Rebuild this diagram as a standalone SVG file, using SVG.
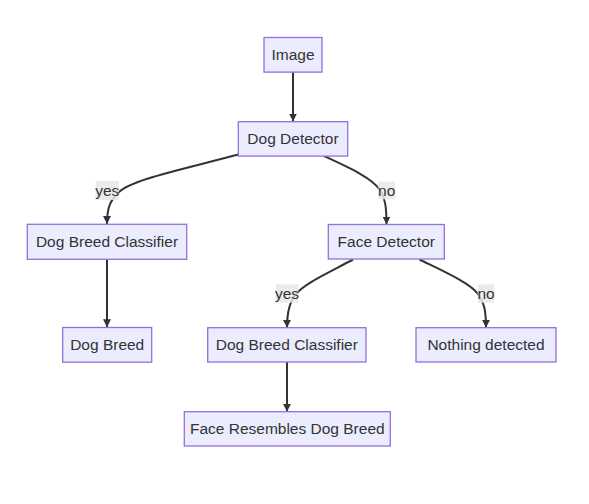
<svg xmlns="http://www.w3.org/2000/svg" width="589" height="504" viewBox="0 0 589 504">
<style>
.node rect{fill:#ECECFF;stroke:#9370DB;stroke-width:1.3}
.node text,.lbl text{font-family:"Liberation Sans",Arial,sans-serif;font-size:15.5px;fill:#333;text-anchor:middle;dominant-baseline:central}
.edge{fill:none;stroke:#333;stroke-width:2}
.lbl rect{fill:#e8e8e8;opacity:0.85}
</style>
<defs>
<marker id="arr" viewBox="0 0 10 10" refX="10" refY="5" markerWidth="8" markerHeight="8" markerUnits="userSpaceOnUse" orient="auto">
<path d="M0,0 L10,5 L0,10 z" fill="#333"/>
</marker>
</defs>
<rect width="589" height="504" fill="#fff"/>
<g id="edges">
<path class="edge" d="M293,72.3 L293,121.5" marker-end="url(#arr)"/>
<path class="edge" d="M238.3,154.5 C180,170 130,180 118,193 C110,201 107,208 107,224" marker-end="url(#arr)"/>
<path class="edge" d="M324,156 C350,168 372,178 380,190 C385,198 386.5,206 386.5,224.5" marker-end="url(#arr)"/>
<path class="edge" d="M107,259.3 L107,327.3" marker-end="url(#arr)"/>
<path class="edge" d="M353,259.5 C330,272 305,283 296,294 C290,301 287,310 287,327.7" marker-end="url(#arr)"/>
<path class="edge" d="M419.5,259.5 C445,272 470,283 478,294 C484,302 486,310 486,327.7" marker-end="url(#arr)"/>
<path class="edge" d="M287,362 L287,411.7" marker-end="url(#arr)"/>
<g class="lbl"><rect x="95.7" y="181" width="23.3" height="19"/><text x="107.3" y="190.5">yes</text></g>
<g class="lbl"><rect x="378.3" y="181.7" width="16.7" height="17.6"/><text x="386.7" y="190.5">no</text></g>
<g class="lbl"><rect x="275.8" y="284.3" width="22.5" height="18.4"/><text x="287" y="293.5">yes</text></g>
<g class="lbl"><rect x="477.7" y="284.3" width="16.7" height="18.4"/><text x="486" y="293.5">no</text></g>
</g>
<g id="n-image" class="node"><rect x="264" y="37.5" width="58" height="34.6"/><text x="293" y="54.8">Image</text></g>
<g id="n-dogdetector" class="node"><rect x="238.3" y="121.7" width="109.4" height="34.4"/><text x="293" y="138.9">Dog Detector</text></g>
<g id="n-dbc1" class="node"><rect x="27.3" y="224.3" width="159.4" height="35"/><text x="107" y="241.8">Dog Breed Classifier</text></g>
<g id="n-facedetector" class="node"><rect x="328.3" y="224.5" width="116" height="34.5"/><text x="386.3" y="241.8">Face Detector</text></g>
<g id="n-dogbreed" class="node"><rect x="62.7" y="327.5" width="89" height="34.7"/><text x="107.2" y="344.8">Dog Breed</text></g>
<g id="n-dbc2" class="node"><rect x="207.7" y="327.7" width="158.3" height="34.3"/><text x="286.8" y="344.8">Dog Breed Classifier</text></g>
<g id="n-nothing" class="node"><rect x="416" y="327.7" width="140" height="34.3"/><text x="486" y="344.8">Nothing detected</text></g>
<g id="n-face" class="node"><rect x="184.3" y="411.7" width="206" height="34.3"/><text x="287.3" y="428.8">Face Resembles Dog Breed</text></g>
</svg>
